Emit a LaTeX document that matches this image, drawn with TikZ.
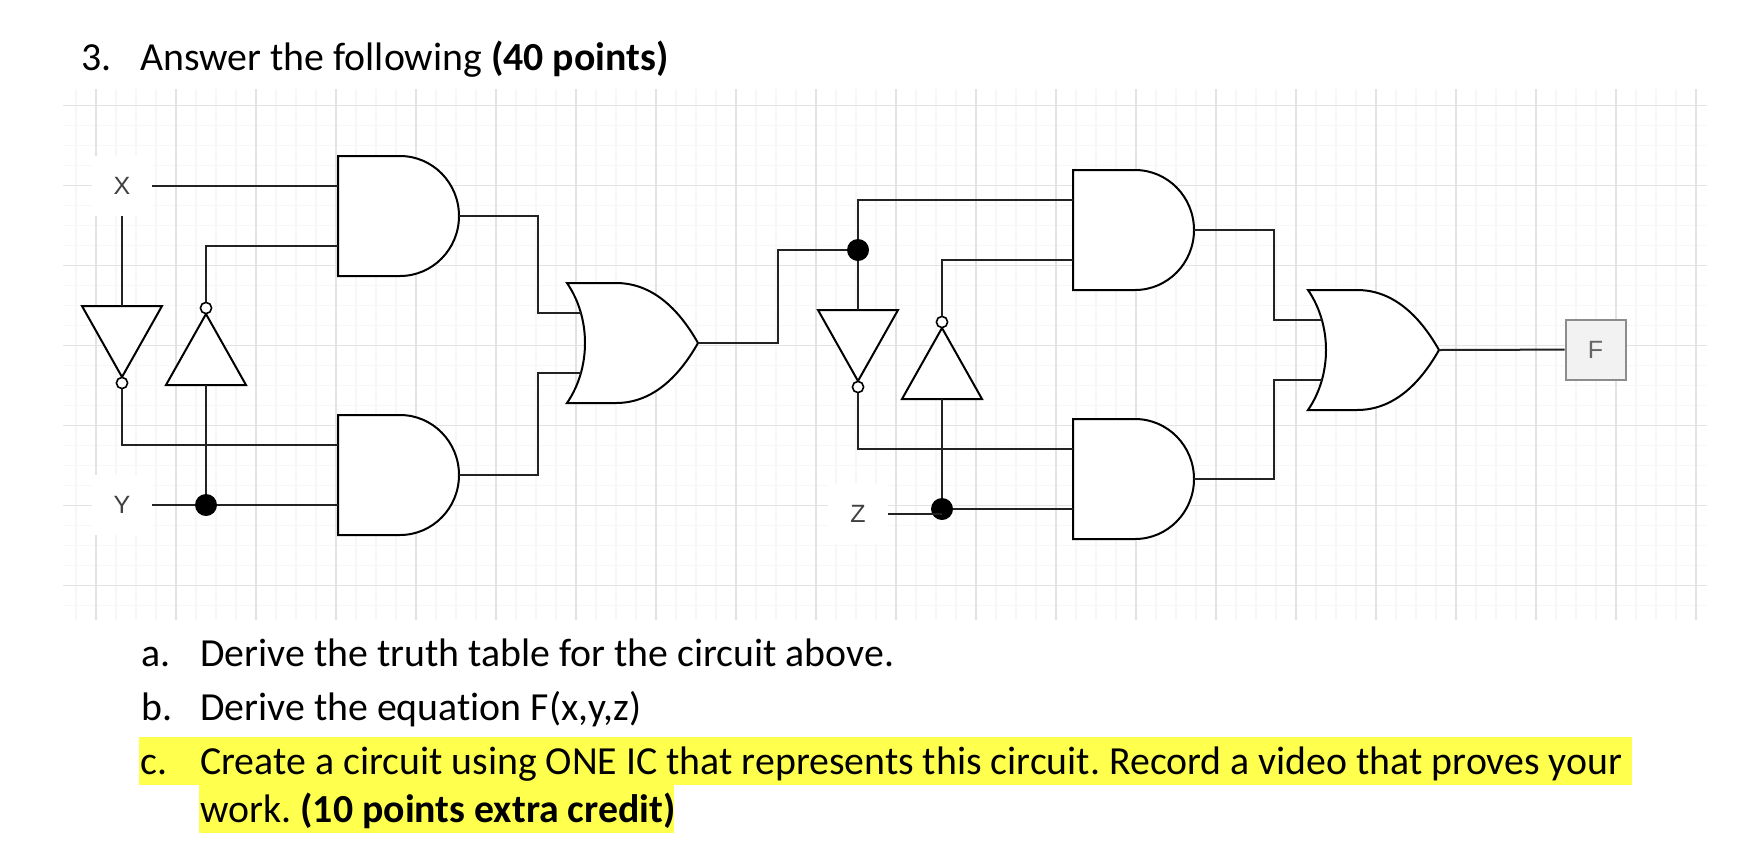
\documentclass[tikz,border=0pt]{standalone}
\usepackage{fontspec}
\setmainfont{Carlito}[Ligatures=NoCommon]
\newfontfamily\labelfont{Liberation Sans}
\definecolor{hlyellow}{HTML}{FFFF4D}
\definecolor{gridmajor}{HTML}{E3E3E3}
\definecolor{gridminor}{HTML}{F7F7F7}
\definecolor{wirecol}{HTML}{222222}
\frenchspacing
\tikzset{
  gateline/.style={draw=black,fill=white,line width=1pt,line join=miter},
  wire/.style={draw=wirecol,line width=1pt},
  dotnode/.style={circle,fill=black,minimum size=11pt,inner sep=0pt},
  inputlabel/.style={fill=white,minimum width=30pt,minimum height=30pt,inner sep=0pt,text=black!75,font=\labelfont\fontsize{12.5}{14}\selectfont},
  outputbox/.style={draw=black!45,fill=black!5,line width=1pt,minimum size=30pt,inner sep=0pt,text=black!60,font=\labelfont\fontsize{12.5}{14}\selectfont},
  bodytext/.style={anchor=base west,inner sep=0pt,font=\fontsize{19.9}{24}\selectfont},
  andgate/.pic={
    \draw[gateline] (0,0) -- (62,0) .. controls (94.6,0) and (121,26.9) .. (121,60)
      .. controls (121,93.1) and (94.6,120) .. (62,120) -- (0,120) -- cycle;
    \coordinate (-ina) at (0,30);
    \coordinate (-inb) at (0,90);
    \coordinate (-out) at (121,60);
  },
  orgate/.pic={
    \draw[gateline] (0,0) -- (49,0) .. controls (88,0) and (114,30) .. (131,60)
      .. controls (114,90) and (88,120) .. (49,120) -- (0,120)
      .. controls (24,85) and (24,35) .. (0,0) -- cycle;
    \coordinate (-ina) at (13.5,30);
    \coordinate (-inb) at (13.5,90);
    \coordinate (-out) at (131,60);
  },
  notdown/.pic={
    \draw[gateline] (-40,0) -- (40,0) -- (0,71) -- cycle;
    \draw[gateline,line width=.8pt] (0,77) circle[radius=2.8pt];
    \coordinate (-in) at (0,0);
    \coordinate (-out) at (0,83);
  },
  notup/.pic={
    \draw[gateline] (-40,0) -- (40,0) -- (0,-71) -- cycle;
    \draw[gateline,line width=.8pt] (0,-77) circle[radius=2.8pt];
    \coordinate (-in) at (0,0);
    \coordinate (-out) at (0,-83);
  },
}
\begin{document}
\begin{tikzpicture}[x=.5pt,y=-.5pt]
  \useasboundingbox (0,0) rectangle (1742,842);
  % grid
  \begin{scope}
    \clip (63,89) rectangle (1707,620);
    \foreach \x in {76,96,...,1706}
      \draw[gridminor,line width=.6pt] (\x,89) -- (\x,620);
    \foreach \y in {85.5,105.5,...,625}
      \draw[gridminor,line width=.6pt] (63,\y) -- (1707,\y);
    \foreach \x in {96,176,...,1706}
      \draw[gridmajor,line width=.7pt] (\x,89) -- (\x,620);
    \foreach \y in {105.5,185.5,...,625}
      \draw[gridmajor,line width=.7pt] (63,\y) -- (1707,\y);
  \end{scope}
  % highlight
  \fill[hlyellow] (139,737) rectangle (1632,785);
  \fill[hlyellow] (198.5,785) rectangle (674,833);
  % text
  \node[bodytext] (qnum) at (81,70) {3.};
  \node[bodytext] (qtitle) at (140,70) {Answer the following \textbf{(40 points)}};
  \node[bodytext] (anum) at (141,666) {a.};
  \node[bodytext] (atext) at (200,666) {Derive the truth table for the circuit above.};
  \node[bodytext] (bnum) at (141,720) {b.};
  \node[bodytext] (btext) at (200,720) {Derive the equation F(x,y,z)};
  \node[bodytext] (cnum) at (140,774) {c.};
  \node[bodytext] (ctext) at (200,774) {Create a circuit using ONE IC that represents this circuit. Record a video that proves your};
  \node[bodytext] (dtext) at (200,822) {work. \textbf{(10 points extra credit)}};
  % inputs and output
  \node[inputlabel] (X) at (122,186) {X};
  \node[inputlabel] (Y) at (122,505) {Y};
  \node[inputlabel] (Z) at (858,514) {Z};
  \node[outputbox] (F) at (1595.5,349.5) {F};
  \node[dotnode] (ydot) at (206,505) {};
  \node[dotnode] (mdot) at (858,250) {};
  \node[dotnode] (zdot) at (942,509) {};
  \coordinate (j1) at (538,345);
  \coordinate (j2) at (778,300);
  \coordinate (j3) at (1274,350);
  % gates
  \pic (a1) at (338,156) {andgate};
  \pic (a2) at (338,415) {andgate};
  \pic (a3) at (1073,170) {andgate};
  \pic (a4) at (1073,419) {andgate};
  \pic (o1) at (567,283) {orgate};
  \pic (o2) at (1308,290) {orgate};
  \pic (n1) at (122,306) {notdown};
  \pic (n2) at (206,385) {notup};
  \pic (n3) at (858,310) {notdown};
  \pic (n4) at (942,399) {notup};
  % left half
  \draw[wire] (X.east) -- (a1-ina);
  \draw[wire] (X.south) -- (n1-in);
  \draw[wire] (n1-out) |- (a2-ina);
  \draw[wire] (Y.east) -- (ydot) -- (a2-inb);
  \draw[wire] (ydot) -- (n2-in);
  \draw[wire] (n2-out) |- (a1-inb);
  \draw[wire] (a1-out) -- (a1-out -| j1) |- (o1-ina);
  \draw[wire] (a2-out) -- (a2-out -| j1) |- (o1-inb);
  % right half
  \draw[wire] (o1-out) -- (o1-out -| j2) |- (mdot);
  \draw[wire] (mdot) |- (a3-ina);
  \draw[wire] (mdot) -- (n3-in);
  \draw[wire] (n3-out) |- (a4-ina);
  \draw[wire] (Z.east) -- (Z.east -| zdot);
  \draw[wire] (zdot) -- (a4-inb);
  \draw[wire] (zdot) -- (n4-in);
  \draw[wire] (n4-out) |- (a3-inb);
  \draw[wire] (a3-out) -- (a3-out -| j3) |- (o2-ina);
  \draw[wire] (a4-out) -- (a4-out -| j3) |- (o2-inb);
  \draw[wire] (o2-out) -- (F);
\end{tikzpicture}
\end{document}
